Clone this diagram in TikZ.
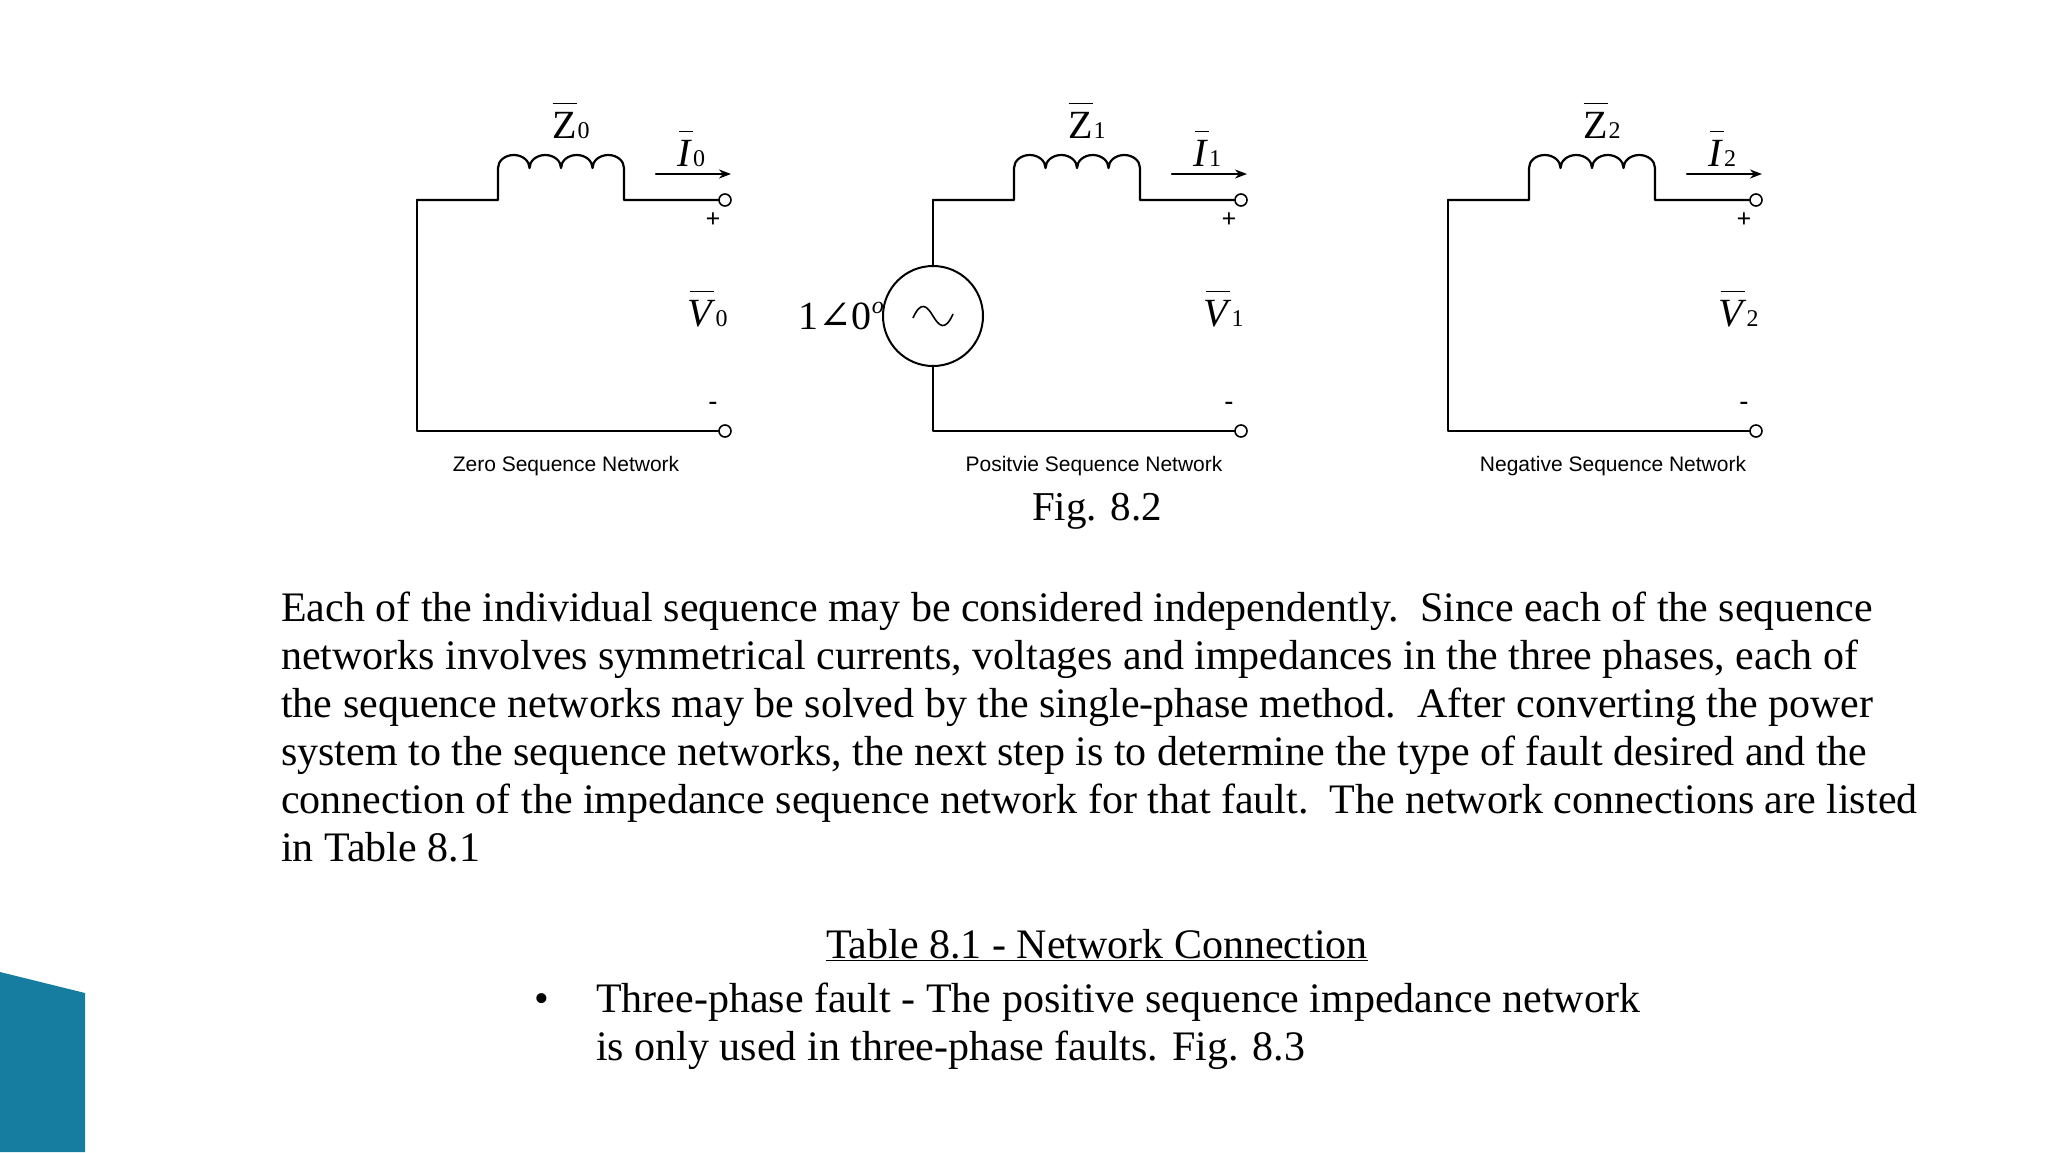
\documentclass[tikz,border=0pt]{standalone}
\usepackage{fontspec}
\setmainfont{Liberation Serif}
\newfontfamily\capfont{Liberation Sans}
\newfontfamily\dvfont{DejaVu Serif}
\usetikzlibrary{arrows.meta}
\definecolor{teal1}{RGB}{22,125,160}
\begin{document}
\begin{tikzpicture}[x=1pt,y=-1pt,
  wire/.style={line width=2.2pt,line cap=round,line join=round},
  term/.style={circle,draw,line width=1.6pt,fill=white,inner sep=0pt,minimum size=12pt},
  lab/.style={font=\fontsize{40}{44}\selectfont,inner sep=0pt,anchor=base},
  sub/.style={font=\fontsize{24}{26}\selectfont,inner sep=0pt,anchor=base west},
  bar/.style={line width=1.6pt},
  pm/.style={font=\fontsize{26}{28}\selectfont\bfseries,inner sep=0pt},
  netcap/.style={font=\capfont\fontsize{21}{23}\selectfont,inner sep=0pt},
  para/.style={font=\fontsize{42}{44}\selectfont,anchor=base west,inner sep=0pt}]
\useasboundingbox (0,0) rectangle (2048,1152);
\fill[white] (0,0) rectangle (2048,1152);
\fill[fill=teal1] (0,972) -- (85,993) -- (85,1152) -- (0,1152) -- cycle;

\foreach \ox/\k [count=\i] in {0/0,516/1,1031/2}{
  \begin{scope}[xshift=\ox pt]
  \node[term] (tp\i) at (725,200) {};
  \node[term] (tn\i) at (725,431) {};
  \coordinate (c\i) at (417,200);
  \draw[wire] (tp\i.west) -- (624,200) -- (624,168)
     arc[start angle=0,end angle=180,x radius=15.75pt,y radius=13pt]
     arc[start angle=0,end angle=180,x radius=15.75pt,y radius=13pt]
     arc[start angle=0,end angle=180,x radius=15.75pt,y radius=13pt]
     arc[start angle=0,end angle=180,x radius=15.75pt,y radius=13pt]
     -- (498,200) -- (c\i);
  \coordinate (a\i) at (656,174);
  \coordinate (b\i) at (731,174);
  \draw[wire,-{Stealth[length=12pt,width=9pt]}] (a\i) -- (b\i);
  \node[lab] (z\i) at (565,138) {Z};
  \node[sub] (zs\i) at (z\i.base east) {\k};
  \draw[bar] ([yshift=8pt]z\i.north west) -- ([yshift=8pt]z\i.north east);
  \node[lab] (i\i) at (684,166) {\itshape I};
  \node[sub] (is\i) at ([xshift=2pt]i\i.base east) {\k};
  \draw[bar] ([yshift=8pt,xshift=2pt]i\i.north west) -- ([yshift=8pt,xshift=2pt]i\i.north east);
  \node[lab] (v\i) at (700,326) {\itshape V};
  \node[sub] (vs\i) at ([xshift=3pt]v\i.base east) {\k};
  \draw[bar] ([yshift=8pt,xshift=2pt]v\i.north west) -- ([yshift=8pt,xshift=2pt]v\i.north east);
  \node[pm] (p\i) at (713,220) {+};
  \node[pm] (m\i) at (713,406) {-};
  \end{scope}
}
\node[netcap] (cap1) at (566,466) {Zero Sequence Network};
\node[netcap] (cap2) at (1094,466) {Positvie Sequence Network};
\node[netcap] (cap3) at (1613,466) {Negative Sequence Network};

\draw[wire] (c1) -- (417,431) -- (tn1.west);
\draw[wire] (c3) -- (1448,431) -- (tn3.west);
\node[circle,draw,line width=2pt,minimum size=100pt,inner sep=0pt] (src) at (933,316) {};
\draw[line width=1.6pt] (913,318) .. controls (921,300) and (927,306) .. (933,316) .. controls (939,326) and (945,332) .. (953,314);
\draw[wire] (c2) -- (src.north);
\draw[wire] (src.south) -- (933,431) -- (tn2.west);
\node[font=\fontsize{40}{44}\selectfont,inner sep=0pt,anchor=east] (amp) at (884,316) {1{\dvfont ∠}0\raisebox{0.9ex}{\fontsize{24}{26}\selectfont\itshape o}};

\node[font=\fontsize{41}{44}\selectfont,inner sep=0pt] (fig) at (1097,511) {Fig. 8.2};

\node[para] (l1) at (281,621) {Each of the individual sequence may be considered independently.\ \ Since each of the sequence};
\node[para] (l2) at (281,669) {networks involves symmetrical currents, voltages and impedances in the three phases, each of};
\node[para] (l3) at (281,717) {the sequence networks may be solved by the single-phase method.\ \ After converting the power};
\node[para] (l4) at (281,765) {system to the sequence networks, the next step is to determine the type of fault desired and the};
\node[para] (l5) at (281,813) {connection of the impedance sequence network for that fault.\ \ The network connections are listed};
\node[para] (l6) at (281,861) {in Table 8.1};

\node[para,anchor=base] (tt) at (1097,958) {\underline{Table 8.1 - Network Connection}};
\node[para,anchor=base] (bul) at (542,1012) {\textbullet};
\node[para] (b1) at (596,1012) {Three-phase fault - The positive sequence impedance network};
\node[para] (b2) at (596,1060) {is only used in three-phase faults. Fig. 8.3};
\end{tikzpicture}
\end{document}
